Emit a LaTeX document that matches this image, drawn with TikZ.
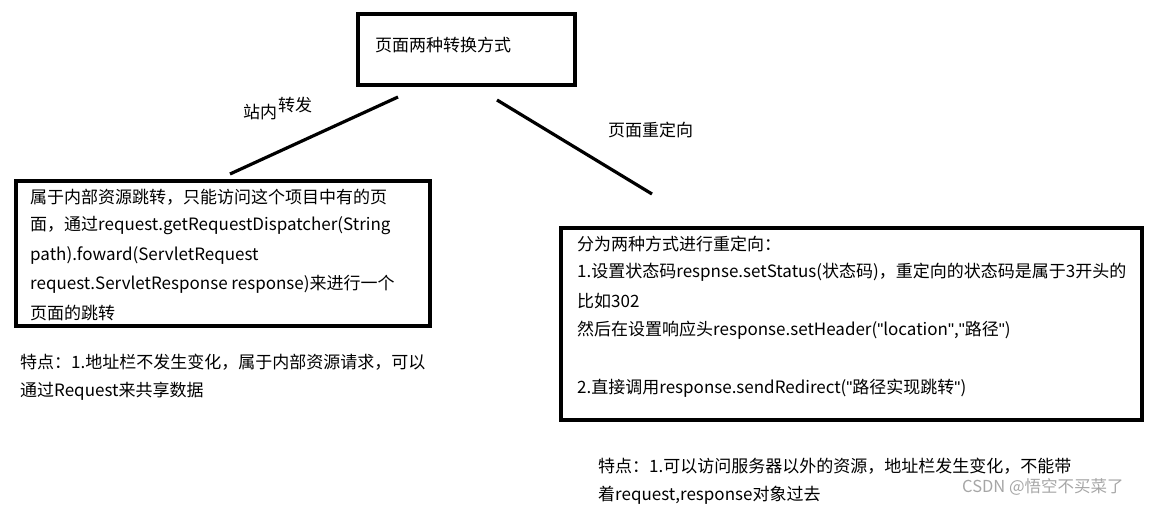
\documentclass[tikz,border=0pt]{standalone}
\usepackage{fontspec}
\setmainfont{Noto Sans CJK SC}
\newfontfamily\qfont{Liberation Sans}
\newcommand{\qq}{{\qfont\symbol{34}}}
\begin{document}
\begin{tikzpicture}[x=1pt,y=-1pt,
  t/.style={anchor=west,inner sep=0pt,font=\fontsize{17}{19}\selectfont},
  box/.style={draw,line width=3.2pt},
  ln/.style={line width=3.2pt}]
\useasboundingbox (0,0) rectangle (1168,506);
\draw[box] (358,14) rectangle (575,85);
\node[t] (title) at (375,45) {页面两种转换方式};
\coordinate (a1) at (398,97); \coordinate (a2) at (230,174);
\coordinate (b1) at (497,100); \coordinate (b2) at (652,194);
\draw[ln] (a1) -- (a2);
\draw[ln] (b1) -- (b2);
\node[t] (l1) at (243,112) {站内};
\node[t] (l2) at (278,105) {转发};
\node[t] (l3) at (608,130) {页面重定向};
\draw[box] (16,181) rectangle (430,326);
\node[t] (p1) at (30,197) {属于内部资源跳转，只能访问这个项目中有的页};
\node[t] (p2) at (30,226) {面，通过request.getRequestDispatcher(String};
\node[t] (p3) at (30,255) {path).foward(ServletRequest};
\node[t] (p4) at (30,284) {request.ServletResponse response)来进行一个};
\node[t] (p5) at (30,313) {页面的跳转};
\node[t] (q1) at (20,362) {特点：1.地址栏不发生变化，属于内部资源请求，可以};
\node[t] (q2) at (20,391) {通过Request来共享数据};
\draw[box] (561,228) rectangle (1142,420);
\node[t] (r1) at (577,244) {分为两种方式进行重定向：};
\node[t] (r2) at (577,272) {1.设置状态码respnse.setStatus(状态码)，重定向的状态码是属于3开头的};
\node[t] (r3) at (577,301) {比如302};
\node[t] (r4) at (577,330) {然后在设置响应头response.setHeader(\qq location\qq,\qq 路径\qq)};
\node[t] (r5) at (577,388) {2.直接调用response.sendRedirect(\qq 路径实现跳转\qq)};
\node[t] (s1) at (598,466) {特点：1.可以访问服务器以外的资源，地址栏发生变化，不能带};
\node[t] (s2) at (598,495) {着request,response对象过去};
\node[t,text=gray!70,font=\fontsize{16.5}{18}\selectfont] (wm) at (962,487) {CSDN @悟空不买菜了};
\end{tikzpicture}
\end{document}
